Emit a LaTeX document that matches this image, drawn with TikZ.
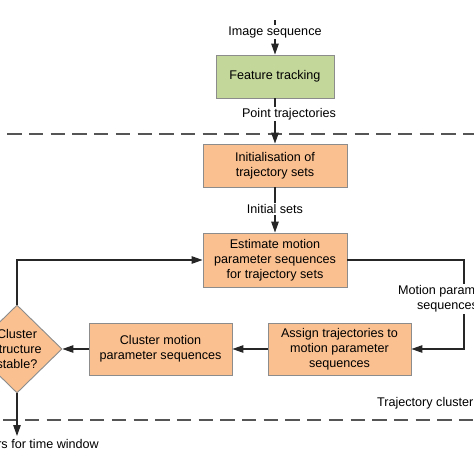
\documentclass[tikz,border=0pt]{standalone}
\usepackage{fontspec}
\setmainfont{Liberation Sans}
\usetikzlibrary{arrows.meta,shapes.geometric}
\definecolor{greenfill}{RGB}{196,215,155}
\definecolor{orangefill}{RGB}{250,192,144}
\definecolor{boxgray}{RGB}{140,140,140}
\definecolor{sepgray}{RGB}{85,85,85}
\begin{document}
\begin{tikzpicture}[x=1pt,y=-1pt,
  font=\fontsize{12.6}{15}\selectfont,
  box/.style={draw=boxgray, line width=0.9pt, fill=orangefill, minimum width=144pt, minimum height=43pt, align=center, inner sep=0pt},
  gbox/.style={box, fill=greenfill, minimum width=118pt},
  conn/.style={draw=black!85, line width=1.2pt, -{Triangle[length=11pt,width=7.5pt]}},
  lbl/.style={fill=white, inner sep=1.5pt, align=center},
  sepline/.style={draw=sepgray, line width=1.6pt, dash pattern=on 14.3pt off 7.4pt}]
\useasboundingbox (0,0) rectangle (474,474);
\clip (0,0) rectangle (474,474);
\fill[white] (0,0) rectangle (474,474);
% separators
\draw[sepline] (7.3,134) -- (480,134);
\draw[sepline] (3.3,420) -- (480,420);
% nodes
\node[gbox] (ft) at (275,76.5) {Feature tracking};
\node[box] (init) at (275,165.5) {Initialisation of\\trajectory sets};
\node[box, minimum height=54pt] (est) at (275,260) {Estimate motion\\parameter sequences\\for trajectory sets};
\node[box, minimum width=143pt, minimum height=52pt] (assign) at (339.5,349) {Assign trajectories to\\motion parameter\\sequences};
\node[box, minimum width=143pt, minimum height=52pt] (clus) at (160.5,349) {Cluster motion\\parameter sequences};
\node[draw=boxgray, line width=0.9pt, fill=orangefill, diamond, minimum width=90pt, minimum height=88pt, inner sep=0pt] (dia) at (17,349) {};
\node[align=center] (diatext) at (dia.center) {Cluster\\structure\\stable?};
\coordinate (top) at (275,20);
\coordinate (rc) at (464,260);
\coordinate (outc) at (17,436);
% connectors
\draw[conn] (top) -- (ft.north);
\node[lbl] (l1) at (275,32) {Image sequence};
\draw[conn] (ft.south) -- (init.north);
\node[lbl] (l2) at (289,114) {Point trajectories};
\draw[conn] (init.south) -- (est.north);
\node[lbl] (l3) at (275,209) {Initial sets};
\draw[conn] (est.east) -- (rc) |- (assign.east);
\node[lbl] (l4) at (447.5,299) {Motion parameter\\sequences};
\draw[conn] (assign.west) -- (clus.east);
\draw[conn] (clus.west) -- (dia.east);
\draw[conn] (dia.north) |- (est.west);
\draw[conn] (dia.south) -- (outc);
\node[anchor=east, inner sep=0pt] (l5) at (99,444) {Clusters for time window};
\node[anchor=west, inner sep=0pt] (l6) at (377,403) {Trajectory clustering};
\end{tikzpicture}
\end{document}
